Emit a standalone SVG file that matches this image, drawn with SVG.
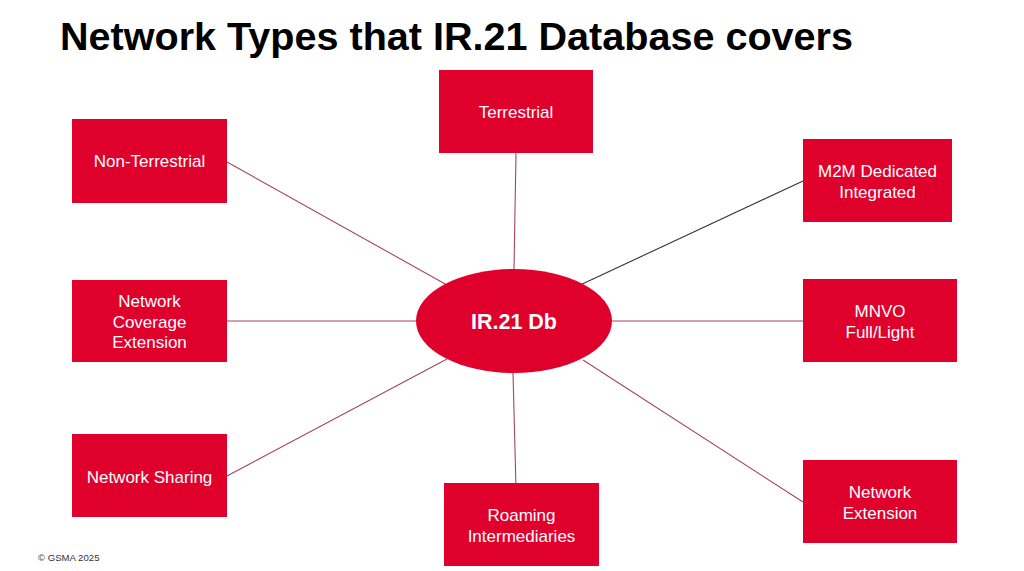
<svg xmlns="http://www.w3.org/2000/svg" width="1024" height="571" viewBox="0 0 1024 571">
<style>
.box{fill:#E0002C;}
.lbl{font-family:"Liberation Sans",Arial,sans-serif;font-size:17px;fill:#ffffff;text-anchor:middle;}
.conn{stroke:#A3475C;stroke-width:1.1;fill:none;}
.conn-dark{stroke:#333333;stroke-width:1.1;fill:none;}
</style>
<rect width="1024" height="571" fill="#ffffff"/>
<text x="60" y="50" font-family="Liberation Sans,Arial,sans-serif" font-weight="bold" font-size="38" fill="#000000" textLength="793" lengthAdjust="spacingAndGlyphs">Network Types that IR.21 Database covers</text>
<g id="connectors">
<line class="conn" x1="516" y1="153" x2="514" y2="269"/>
<line class="conn" x1="513" y1="373" x2="516" y2="488"/>
<line class="conn" x1="227" y1="162" x2="447" y2="285"/>
<line class="conn-dark" x1="803" y1="181" x2="578" y2="286"/>
<line class="conn" x1="227" y1="321" x2="416" y2="321"/>
<line class="conn" x1="612" y1="321" x2="803" y2="321"/>
<line class="conn" x1="227" y1="476" x2="447" y2="359"/>
<line class="conn" x1="583" y1="360" x2="803" y2="502"/>
</g>
<g id="center">
<ellipse class="box" cx="514" cy="321" rx="98" ry="52"/>
<text x="514" y="329" font-family="Liberation Sans,Arial,sans-serif" font-weight="bold" font-size="21.5" fill="#ffffff" text-anchor="middle">IR.21 Db</text>
</g>
<g id="terrestrial">
<rect class="box" x="439" y="70" width="154" height="83"/>
<text class="lbl" x="516" y="117.5">Terrestrial</text>
</g>
<g id="non-terrestrial">
<rect class="box" x="72" y="119" width="155" height="84"/>
<text class="lbl" x="149.5" y="167">Non-Terrestrial</text>
</g>
<g id="m2m">
<rect class="box" x="803" y="139" width="149" height="83"/>
<text class="lbl" x="877.5" y="176.5">M2M Dedicated</text>
<text class="lbl" x="877.5" y="197.5">Integrated</text>
</g>
<g id="coverage-extension">
<rect class="box" x="72" y="280" width="155" height="82"/>
<text class="lbl" x="149.5" y="307">Network</text>
<text class="lbl" x="149.5" y="327.5">Coverage</text>
<text class="lbl" x="149.5" y="348">Extension</text>
</g>
<g id="mnvo">
<rect class="box" x="803" y="279" width="154" height="83"/>
<text class="lbl" x="880" y="317">MNVO</text>
<text class="lbl" x="880" y="338">Full/Light</text>
</g>
<g id="network-sharing">
<rect class="box" x="72" y="434" width="155" height="83"/>
<text class="lbl" x="149.5" y="483">Network Sharing</text>
</g>
<g id="roaming">
<rect class="box" x="444" y="483" width="155" height="83"/>
<text class="lbl" x="521.5" y="520.5">Roaming</text>
<text class="lbl" x="521.5" y="541.5">Intermediaries</text>
</g>
<g id="network-extension">
<rect class="box" x="803" y="460" width="154" height="83"/>
<text class="lbl" x="880" y="498">Network</text>
<text class="lbl" x="880" y="519">Extension</text>
</g>
<text x="38" y="561" font-family="Liberation Sans,Arial,sans-serif" font-size="9.6" fill="#333333">© GSMA 2025</text>
</svg>
